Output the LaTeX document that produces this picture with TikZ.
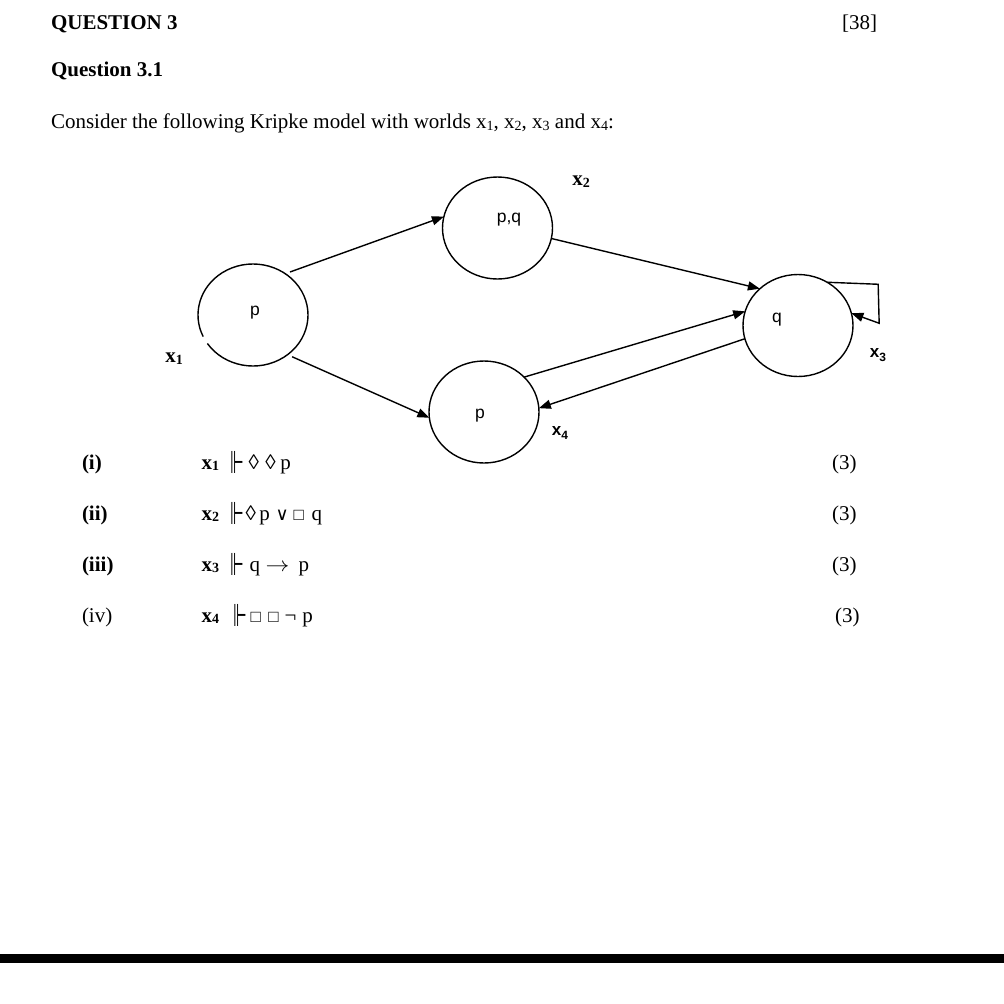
\documentclass[tikz,border=0pt]{standalone}
\usepackage{graphicx}
\usepackage{fontspec}
\setmainfont{Liberation Serif}
\newfontfamily\arialf{Liberation Sans}
\newfontfamily\symf{DejaVu Sans}
\usetikzlibrary{shapes.geometric,arrows.meta}
\newcommand{\sxb}[1]{\textbf{x\raisebox{-0.08em}{\fontsize{14}{14}\selectfont\bfseries #1}}}
\newcommand{\sxr}[1]{x\raisebox{-0.12em}{\fontsize{14}{14}\selectfont #1}}
\newcommand{\sxs}[1]{{\arialf\bfseries x\raisebox{-0.25em}{\fontsize{12}{12}\selectfont\bfseries #1}}}
\newcommand{\frc}{\raisebox{-0.22em}{\scalebox{0.75}[1.5]{\symf ⊩}}}
\newcommand{\myor}{{\symf\fontsize{18}{18}\selectfont ∨}}
\newcommand{\mybx}{{\fontsize{17}{17}\selectfont □}}
\newcommand{\myto}{\scalebox{1.15}[1]{$\rightarrow$}}
\newcommand{\pat}[2]{\rlap{\hspace{#1pt}#2}}
\begin{document}
\begin{tikzpicture}[x=1pt,y=-1pt,
  every node/.style={inner sep=0pt,outer sep=0pt,font=\fontsize{21}{25}\selectfont},
  world/.style={ellipse,minimum width=110pt,minimum height=102pt},
  wline/.style={draw,line width=1.4pt},
  wtext/.style={font=\arialf\fontsize{17.5}{20}\selectfont},
  slab/.style={font=\arialf\fontsize{17}{20}\selectfont},
  conn/.style={line width=1.4pt,-{Triangle[length=12pt,width=9pt]}},
  txt/.style={anchor=base west}]
\useasboundingbox (0,0) rectangle (1004,1004);
\fill[white] (0,0) rectangle (1004,1004);
% header
\node[txt] (h1) at (51,29) {\textbf{QUESTION 3}};
\node[txt] (h2) at (842,29) {[38]};
\node[txt] (h3) at (51,76) {\textbf{Question 3.1}};
\node[txt] (h4) at (51,128) {Consider the following Kripke model with worlds \sxr{1}, \sxr{2}, \sxr{3} and \sxr{4}:};
% worlds
\node[world] (x1) at (253,315) {};
\node[world,wline] (x2) at (497.5,228) {};
\node[world,wline] (x3) at (798,325.5) {};
\node[world,wline] (x4) at (484,412) {};
\draw[line width=1.4pt] ([shift={(214:55pt and 51pt)}]x1.center) arc[start angle=214, end angle=565, x radius=55pt, y radius=51pt];
\node[wtext] (t1) at (255,313) {p};
\node[wtext] (t2) at (509,220) {p,q};
\node[wtext] (t3) at (777,320) {q};
\node[wtext] (t4) at (480,416) {p};
% world labels
\node (l1) at (174,359) {\sxb{1}};
\node (l2) at (581,182) {\sxb{2}};
\node[slab] (l3) at (878,355) {\sxs{3}};
\node[slab] (l4) at (560,433) {\sxs{4}};
% relations
\draw[conn,shorten <=5pt] (x1.52) -- (x2.168);
\draw[conn,shorten <=5pt] (x1.-49) -- (x4.186);
\draw[conn] (x2.-11) -- (x3.136);
\draw[conn] (x4.41) -- (x3.165);
\draw[conn] (x3.194) -- (x4.4);
\draw[conn] (x3.56) -- ++(51,2) -- ++(1,39) -- (x3.13);
% questions
\node[txt] (q1) at (82,469) {\textbf{(i)}};
\node[txt] (q2) at (82,520) {\textbf{(ii)}};
\node[txt] (q3) at (82,571) {\textbf{(iii)}};
\node[txt] (q4) at (82,622) {(iv)};
\node[txt] (f1) at (201,469) {\pat{0}{\sxb{1}}\pat{29}{\frc}\pat{47}{◊}\pat{64}{◊}\pat{79}{p}};
\node[txt] (f2) at (201,520) {\pat{0}{\sxb{2}}\pat{29}{\frc}\pat{44}{◊}\pat{58}{p}\pat{74}{\myor}\pat{92}{\mybx}\pat{110}{q}};
\node[txt] (f3) at (201,571) {\pat{0}{\sxb{3}}\pat{29}{\frc}\pat{48}{q}\pat{64}{\myto}\pat{97}{p}};
\node[txt] (f4) at (201,622) {\pat{0}{\sxb{4}}\pat{32}{\frc}\pat{49}{\mybx}\pat{67}{\mybx}\pat{83}{¬}\pat{101}{p}};
\node[txt] (m1) at (832,469) {(3)};
\node[txt] (m2) at (832,520) {(3)};
\node[txt] (m3) at (832,571) {(3)};
\node[txt] (m4) at (835,622) {(3)};
% bottom rule
\fill[black] (0,954) rectangle (1004,963);
\end{tikzpicture}
\end{document}
